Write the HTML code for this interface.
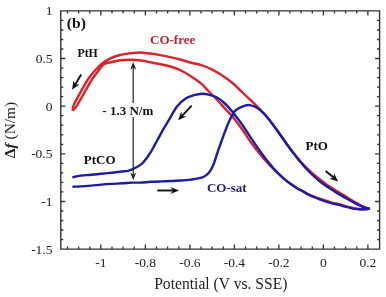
<!DOCTYPE html>
<html><head><meta charset="utf-8"><style>
html,body{margin:0;padding:0;background:#fff;width:386px;height:297px;overflow:hidden}
svg{display:block;will-change:transform}
text{font-family:"Liberation Serif",serif}
.t{font-size:13.5px;fill:#222}
.ax{font-size:15.4px;fill:#222}
.lb{font-size:13px;font-weight:bold;fill:#111}
</style></head><body>
<svg width="386" height="297" viewBox="0 0 386 297">
<path d="M60.8,10.9H379.6V249.1H60.8Z" fill="none" stroke="#333" stroke-width="1.4"/>
<path d="M67.5,249.1v-2.5M67.5,10.9v2.5M78.6,249.1v-2.5M78.6,10.9v2.5M89.8,249.1v-2.5M89.8,10.9v2.5M100.9,249.1v-4.5M100.9,10.9v4.5M112.0,249.1v-2.5M112.0,10.9v2.5M123.1,249.1v-2.5M123.1,10.9v2.5M134.3,249.1v-2.5M134.3,10.9v2.5M145.4,249.1v-4.5M145.4,10.9v4.5M156.5,249.1v-2.5M156.5,10.9v2.5M167.6,249.1v-2.5M167.6,10.9v2.5M178.8,249.1v-2.5M178.8,10.9v2.5M189.9,249.1v-4.5M189.9,10.9v4.5M201.0,249.1v-2.5M201.0,10.9v2.5M212.1,249.1v-2.5M212.1,10.9v2.5M223.3,249.1v-2.5M223.3,10.9v2.5M234.4,249.1v-4.5M234.4,10.9v4.5M245.5,249.1v-2.5M245.5,10.9v2.5M256.6,249.1v-2.5M256.6,10.9v2.5M267.8,249.1v-2.5M267.8,10.9v2.5M278.9,249.1v-4.5M278.9,10.9v4.5M290.0,249.1v-2.5M290.0,10.9v2.5M301.1,249.1v-2.5M301.1,10.9v2.5M312.3,249.1v-2.5M312.3,10.9v2.5M323.4,249.1v-4.5M323.4,10.9v4.5M334.5,249.1v-2.5M334.5,10.9v2.5M345.6,249.1v-2.5M345.6,10.9v2.5M356.8,249.1v-2.5M356.8,10.9v2.5M367.9,249.1v-4.5M367.9,10.9v4.5M60.8,239.6h2.5M379.6,239.6h-2.5M60.8,230.0h2.5M379.6,230.0h-2.5M60.8,220.5h2.5M379.6,220.5h-2.5M60.8,211.0h2.5M379.6,211.0h-2.5M60.8,201.5h4.5M379.6,201.5h-4.5M60.8,191.9h2.5M379.6,191.9h-2.5M60.8,182.4h2.5M379.6,182.4h-2.5M60.8,172.9h2.5M379.6,172.9h-2.5M60.8,163.3h2.5M379.6,163.3h-2.5M60.8,153.8h4.5M379.6,153.8h-4.5M60.8,144.3h2.5M379.6,144.3h-2.5M60.8,134.8h2.5M379.6,134.8h-2.5M60.8,125.2h2.5M379.6,125.2h-2.5M60.8,115.7h2.5M379.6,115.7h-2.5M60.8,106.2h4.5M379.6,106.2h-4.5M60.8,96.7h2.5M379.6,96.7h-2.5M60.8,87.1h2.5M379.6,87.1h-2.5M60.8,77.6h2.5M379.6,77.6h-2.5M60.8,68.1h2.5M379.6,68.1h-2.5M60.8,58.5h4.5M379.6,58.5h-4.5M60.8,49.0h2.5M379.6,49.0h-2.5M60.8,39.5h2.5M379.6,39.5h-2.5M60.8,30.0h2.5M379.6,30.0h-2.5M60.8,20.4h2.5M379.6,20.4h-2.5" fill="none" stroke="#333" stroke-width="1.3"/>
<text x="100.9" y="266.8" text-anchor="middle" class="t">-1</text>
<text x="145.4" y="266.8" text-anchor="middle" class="t">-0.8</text>
<text x="189.9" y="266.8" text-anchor="middle" class="t">-0.6</text>
<text x="234.4" y="266.8" text-anchor="middle" class="t">-0.4</text>
<text x="278.9" y="266.8" text-anchor="middle" class="t">-0.2</text>
<text x="323.4" y="266.8" text-anchor="middle" class="t">0</text>
<text x="367.9" y="266.8" text-anchor="middle" class="t">0.2</text>
<text x="52.5" y="15.4" text-anchor="end" class="t">1</text>
<text x="52.5" y="63.0" text-anchor="end" class="t">0.5</text>
<text x="52.5" y="110.7" text-anchor="end" class="t">0</text>
<text x="52.5" y="158.3" text-anchor="end" class="t">-0.5</text>
<text x="52.5" y="206.0" text-anchor="end" class="t">-1</text>
<text x="52.5" y="253.6" text-anchor="end" class="t">-1.5</text>
<text x="154.2" y="288.8" class="ax" style="font-size:15.9px" textLength="133.2" lengthAdjust="spacingAndGlyphs">Potential (V vs. SSE)</text>
<text transform="translate(15,130) rotate(-90)" text-anchor="middle" class="ax"><tspan font-weight="bold">&#916;</tspan><tspan font-weight="bold" font-style="italic">f</tspan> (N/m)</text>
<path d="M72.7,110.8 C72.8,109.9 72.2,108.6 73.6,105.3 C75.0,102.0 78.6,95.7 81.1,91.2 C83.6,86.7 86.2,82.0 88.6,78.5 C90.9,75.0 92.9,72.7 95.2,70.2 C97.5,67.7 99.7,65.4 102.2,63.5 C104.7,61.6 107.0,60.0 110.0,58.6 C113.0,57.2 116.5,55.9 120.0,55.0 C123.5,54.1 127.4,53.6 130.7,53.2 C134.0,52.8 136.8,52.5 140.0,52.5 C143.2,52.5 146.7,53.1 150.0,53.5 C153.3,53.9 156.7,54.5 160.0,55.1 C163.3,55.7 166.7,56.4 170.0,57.1 C173.3,57.8 176.6,58.6 180.0,59.5 C183.4,60.4 187.0,61.6 190.4,62.5 C193.8,63.4 197.2,63.8 200.7,64.9 C204.1,66.0 207.6,67.4 211.1,69.1 C214.6,70.8 217.9,72.6 221.5,74.9 C225.1,77.2 228.9,80.0 232.5,83.0 C236.1,86.0 239.5,89.7 243.0,93.0 C246.5,96.3 250.3,99.7 253.5,102.8 C256.7,105.9 259.2,108.5 262.0,111.5 C264.8,114.5 267.7,117.8 270.0,120.7 C272.3,123.6 274.0,126.0 276.0,128.8 C278.0,131.6 280.0,134.5 282.0,137.3 C284.0,140.1 286.0,143.1 288.0,145.8 C290.0,148.6 292.1,151.2 294.2,153.8 C296.3,156.4 298.4,158.8 300.4,161.2 C302.5,163.5 304.6,165.8 306.7,167.9 C308.7,170.0 310.8,171.9 312.9,173.7 C315.0,175.5 317.1,177.2 319.1,178.8 C321.1,180.4 323.1,182.0 325.1,183.5 C327.1,185.0 329.1,186.3 331.1,187.6 C333.1,188.9 335.1,190.2 337.1,191.4 C339.1,192.6 341.1,193.7 343.1,194.9 C345.1,196.1 347.0,197.3 348.9,198.5 C350.9,199.6 352.7,200.9 354.7,202.0 C356.6,203.1 358.6,204.3 360.4,205.2 C362.1,206.1 363.7,206.9 365.2,207.4 C366.6,208.0 369.4,208.3 369.0,208.6 C368.6,208.9 365.0,209.2 362.9,209.2 C360.9,209.2 358.9,209.0 356.9,208.7 C354.8,208.4 352.8,208.0 350.8,207.5 C348.8,207.1 346.7,206.5 344.7,205.9 C342.7,205.4 340.7,204.6 338.7,204.1 C336.7,203.6 334.7,203.3 332.7,202.8 C330.7,202.3 328.7,201.6 326.7,201.0 C324.7,200.4 322.7,199.7 320.7,199.0 C318.7,198.3 316.7,197.6 314.7,196.8 C312.7,196.0 310.8,195.3 308.8,194.3 C306.8,193.4 304.8,192.2 302.9,191.1 C300.9,190.0 298.9,189.1 296.9,188.0 C294.9,186.8 293.0,185.5 291.0,184.1 C289.0,182.7 287.0,181.3 285.0,179.6 C283.0,177.9 280.8,175.7 279.0,174.1 C277.2,172.5 276.2,171.6 274.5,169.9 C272.8,168.2 270.5,165.9 268.5,163.8 C266.5,161.7 264.5,159.5 262.5,157.2 C260.5,154.9 258.6,152.5 256.5,149.8 C254.4,147.1 252.4,144.4 250.0,141.0 C247.6,137.6 244.8,133.1 242.1,129.3 C239.4,125.5 236.5,121.5 233.7,118.0 C230.8,114.5 227.8,111.7 225.0,108.6 C222.2,105.5 219.6,102.4 216.8,99.5 C214.0,96.6 211.1,93.7 208.4,91.0 C205.7,88.3 203.7,85.7 200.7,83.2 C197.7,80.7 193.8,78.1 190.4,75.9 C187.0,73.7 183.0,71.5 180.0,70.0 C177.0,68.5 175.2,67.9 172.2,67.0 C169.2,66.1 165.2,65.2 161.8,64.5 C158.4,63.8 154.9,63.2 151.5,62.5 C148.1,61.8 144.6,61.0 141.1,60.5 C137.6,60.0 134.1,59.8 130.7,59.8 C127.2,59.8 123.6,59.9 120.4,60.3 C117.2,60.7 114.6,61.3 111.8,62.0 C109.0,62.7 105.8,62.9 103.5,64.5 C101.2,66.1 99.5,69.4 97.7,71.7 C95.9,74.0 94.7,75.2 92.6,78.5 C90.5,81.8 87.8,86.7 85.2,91.2 C82.6,95.7 79.2,102.0 77.1,105.3 C75.0,108.6 73.4,109.9 72.7,110.8" fill="none" stroke="#d8242c" stroke-width="2.4" stroke-linejoin="round"/>
<path d="M72.4,186.8 C73.8,186.7 77.6,186.6 80.7,186.4 C83.8,186.2 87.6,185.9 91.1,185.6 C94.6,185.3 98.0,184.9 101.5,184.6 C105.0,184.3 108.3,184.1 111.8,183.9 C115.2,183.7 118.8,183.5 122.2,183.3 C125.7,183.1 129.5,182.7 132.5,182.6 C135.5,182.5 137.4,182.7 140.4,182.6 C143.4,182.5 147.2,182.0 150.7,181.8 C154.1,181.6 157.8,181.5 161.1,181.4 C164.4,181.3 167.1,181.2 170.4,181.0 C173.7,180.8 177.2,180.7 180.7,180.5 C184.1,180.3 187.5,180.1 191.1,179.6 C194.7,179.1 199.4,178.5 202.4,177.4 C205.4,176.3 207.1,175.0 208.9,172.8 C210.8,170.7 212.0,168.2 213.5,164.5 C215.0,160.8 216.5,155.1 218.1,150.6 C219.7,146.1 221.5,141.0 222.8,137.5 C224.1,134.0 224.7,132.3 225.8,129.5 C226.9,126.7 227.9,123.6 229.5,120.5 C231.1,117.4 232.9,113.1 235.2,110.7 C237.5,108.3 241.1,107.1 243.5,106.2 C245.9,105.3 247.4,104.8 249.7,105.1 C251.9,105.4 254.6,106.4 257.0,107.8 C259.4,109.2 261.8,111.5 264.0,113.7 C266.2,115.9 268.0,118.2 270.0,120.7 C272.0,123.2 274.0,126.0 276.0,128.8 C278.0,131.6 280.0,134.5 282.0,137.3 C284.0,140.1 286.0,143.0 288.0,145.8 C290.0,148.6 292.0,151.4 294.0,154.0 C296.0,156.6 298.0,159.2 300.0,161.6 C302.0,164.0 304.0,166.3 306.0,168.5 C308.0,170.7 310.0,172.6 312.0,174.5 C314.0,176.4 316.0,178.1 318.0,179.8 C320.0,181.5 322.0,183.0 324.0,184.5 C326.0,186.0 328.0,187.3 330.0,188.6 C332.0,189.9 334.0,191.2 336.0,192.4 C338.0,193.6 340.0,194.8 342.0,195.9 C344.0,197.1 346.0,198.2 348.0,199.3 C350.0,200.4 352.0,201.6 354.0,202.6 C356.0,203.6 358.2,204.8 360.0,205.6 C361.8,206.4 363.5,207.1 365.0,207.6 C366.5,208.1 369.3,208.3 369.0,208.6 C368.7,208.9 365.0,209.3 363.0,209.4 C361.0,209.5 359.0,209.3 357.0,209.1 C355.0,208.9 353.0,208.5 351.0,208.1 C349.0,207.7 347.0,207.2 345.0,206.7 C343.0,206.2 341.0,205.4 339.0,204.9 C337.0,204.4 335.0,204.1 333.0,203.6 C331.0,203.1 329.0,202.4 327.0,201.8 C325.0,201.2 323.0,200.5 321.0,199.8 C319.0,199.1 317.0,198.3 315.0,197.5 C313.0,196.7 311.0,195.9 309.0,194.9 C307.0,193.9 305.0,192.6 303.0,191.5 C301.0,190.4 299.0,189.4 297.0,188.2 C295.0,187.0 293.0,185.6 291.0,184.2 C289.0,182.8 287.0,181.3 285.0,179.6 C283.0,177.9 281.0,176.1 279.0,174.1 C277.0,172.1 275.0,170.0 273.0,167.7 C271.0,165.4 269.0,163.0 267.0,160.5 C265.0,158.0 263.0,155.3 261.0,152.5 C259.0,149.7 257.0,146.8 255.0,143.9 C253.0,141.0 251.2,138.2 249.0,134.9 C246.8,131.7 244.6,128.1 242.0,124.4 C239.4,120.7 236.0,116.3 233.2,112.8 C230.3,109.3 227.7,106.1 224.9,103.5 C222.1,100.9 219.4,98.8 216.6,97.3 C213.8,95.8 210.7,95.2 208.3,94.6 C205.9,94.0 204.6,93.6 202.2,93.7 C199.8,93.8 196.7,94.4 193.9,95.2 C191.1,96.0 188.4,96.7 185.6,98.6 C182.8,100.5 179.8,103.0 177.0,106.5 C174.2,110.0 171.5,115.6 169.0,119.8 C166.5,124.0 163.9,128.3 161.9,131.8 C159.9,135.3 158.6,137.9 156.9,141.0 C155.2,144.1 153.5,147.5 151.8,150.3 C150.1,153.1 148.5,155.7 146.8,157.9 C145.1,160.2 143.7,162.1 141.7,163.8 C139.7,165.5 137.3,166.8 135.0,168.0 C132.7,169.2 130.1,170.2 128.0,170.8 C125.9,171.4 124.9,171.2 122.2,171.5 C119.5,171.8 115.2,172.3 111.8,172.7 C108.3,173.1 105.0,173.5 101.5,173.8 C98.0,174.2 94.6,174.5 91.1,174.8 C87.6,175.1 83.8,175.2 80.7,175.6 C77.6,176.0 73.8,177.0 72.4,177.3" fill="none" stroke="#1c1ca8" stroke-width="2.4" stroke-linejoin="round"/>
<path d="M81.2,74.6L75.2,84.6" stroke="#111" stroke-width="1.9" fill="none"/><path d="M72.1,89.7L73.4,80.6L75.2,84.6L79.6,84.3Z" fill="#111"/>
<path d="M191.7,105.6L182.1,115.9" stroke="#111" stroke-width="1.9" fill="none"/><path d="M178.1,120.3L181.2,111.6L182.1,115.9L186.5,116.5Z" fill="#111"/>
<path d="M157.3,190.5L173.1,190.5" stroke="#111" stroke-width="1.9" fill="none"/><path d="M179.0,190.5L170.5,194.1L173.1,190.5L170.5,186.9Z" fill="#111"/>
<path d="M325.6,170.9L333.6,177.6" stroke="#111" stroke-width="1.9" fill="none"/><path d="M338.2,181.4L329.4,178.7L333.6,177.6L334.0,173.2Z" fill="#111"/>
<path d="M133.2,66V103M133.2,117V176" stroke="#222" stroke-width="1.2" fill="none"/>
<path d="M133.2,62.1L136.2,69.7L133.2,67.5L130.2,69.7Z" fill="#222"/>
<path d="M133.2,180.2L136.2,172.6L133.2,174.8L130.2,172.6Z" fill="#222"/>
<text x="66.8" y="27.6" class="lb" style="font-size:15.6px">(b)</text>
<text x="77.4" y="57" class="lb" textLength="20.4" lengthAdjust="spacingAndGlyphs">PtH</text>
<text x="150" y="44.1" class="lb" style="fill:#c8202a">CO-free</text>
<text x="102.3" y="114.5" class="lb">- 1.3 N/m</text>
<text x="83.8" y="164.4" class="lb">PtCO</text>
<text x="206.9" y="192.3" class="lb" style="fill:#1e1e8c">CO-sat</text>
<text x="305.6" y="149.8" class="lb">PtO</text>
</svg></body></html>
